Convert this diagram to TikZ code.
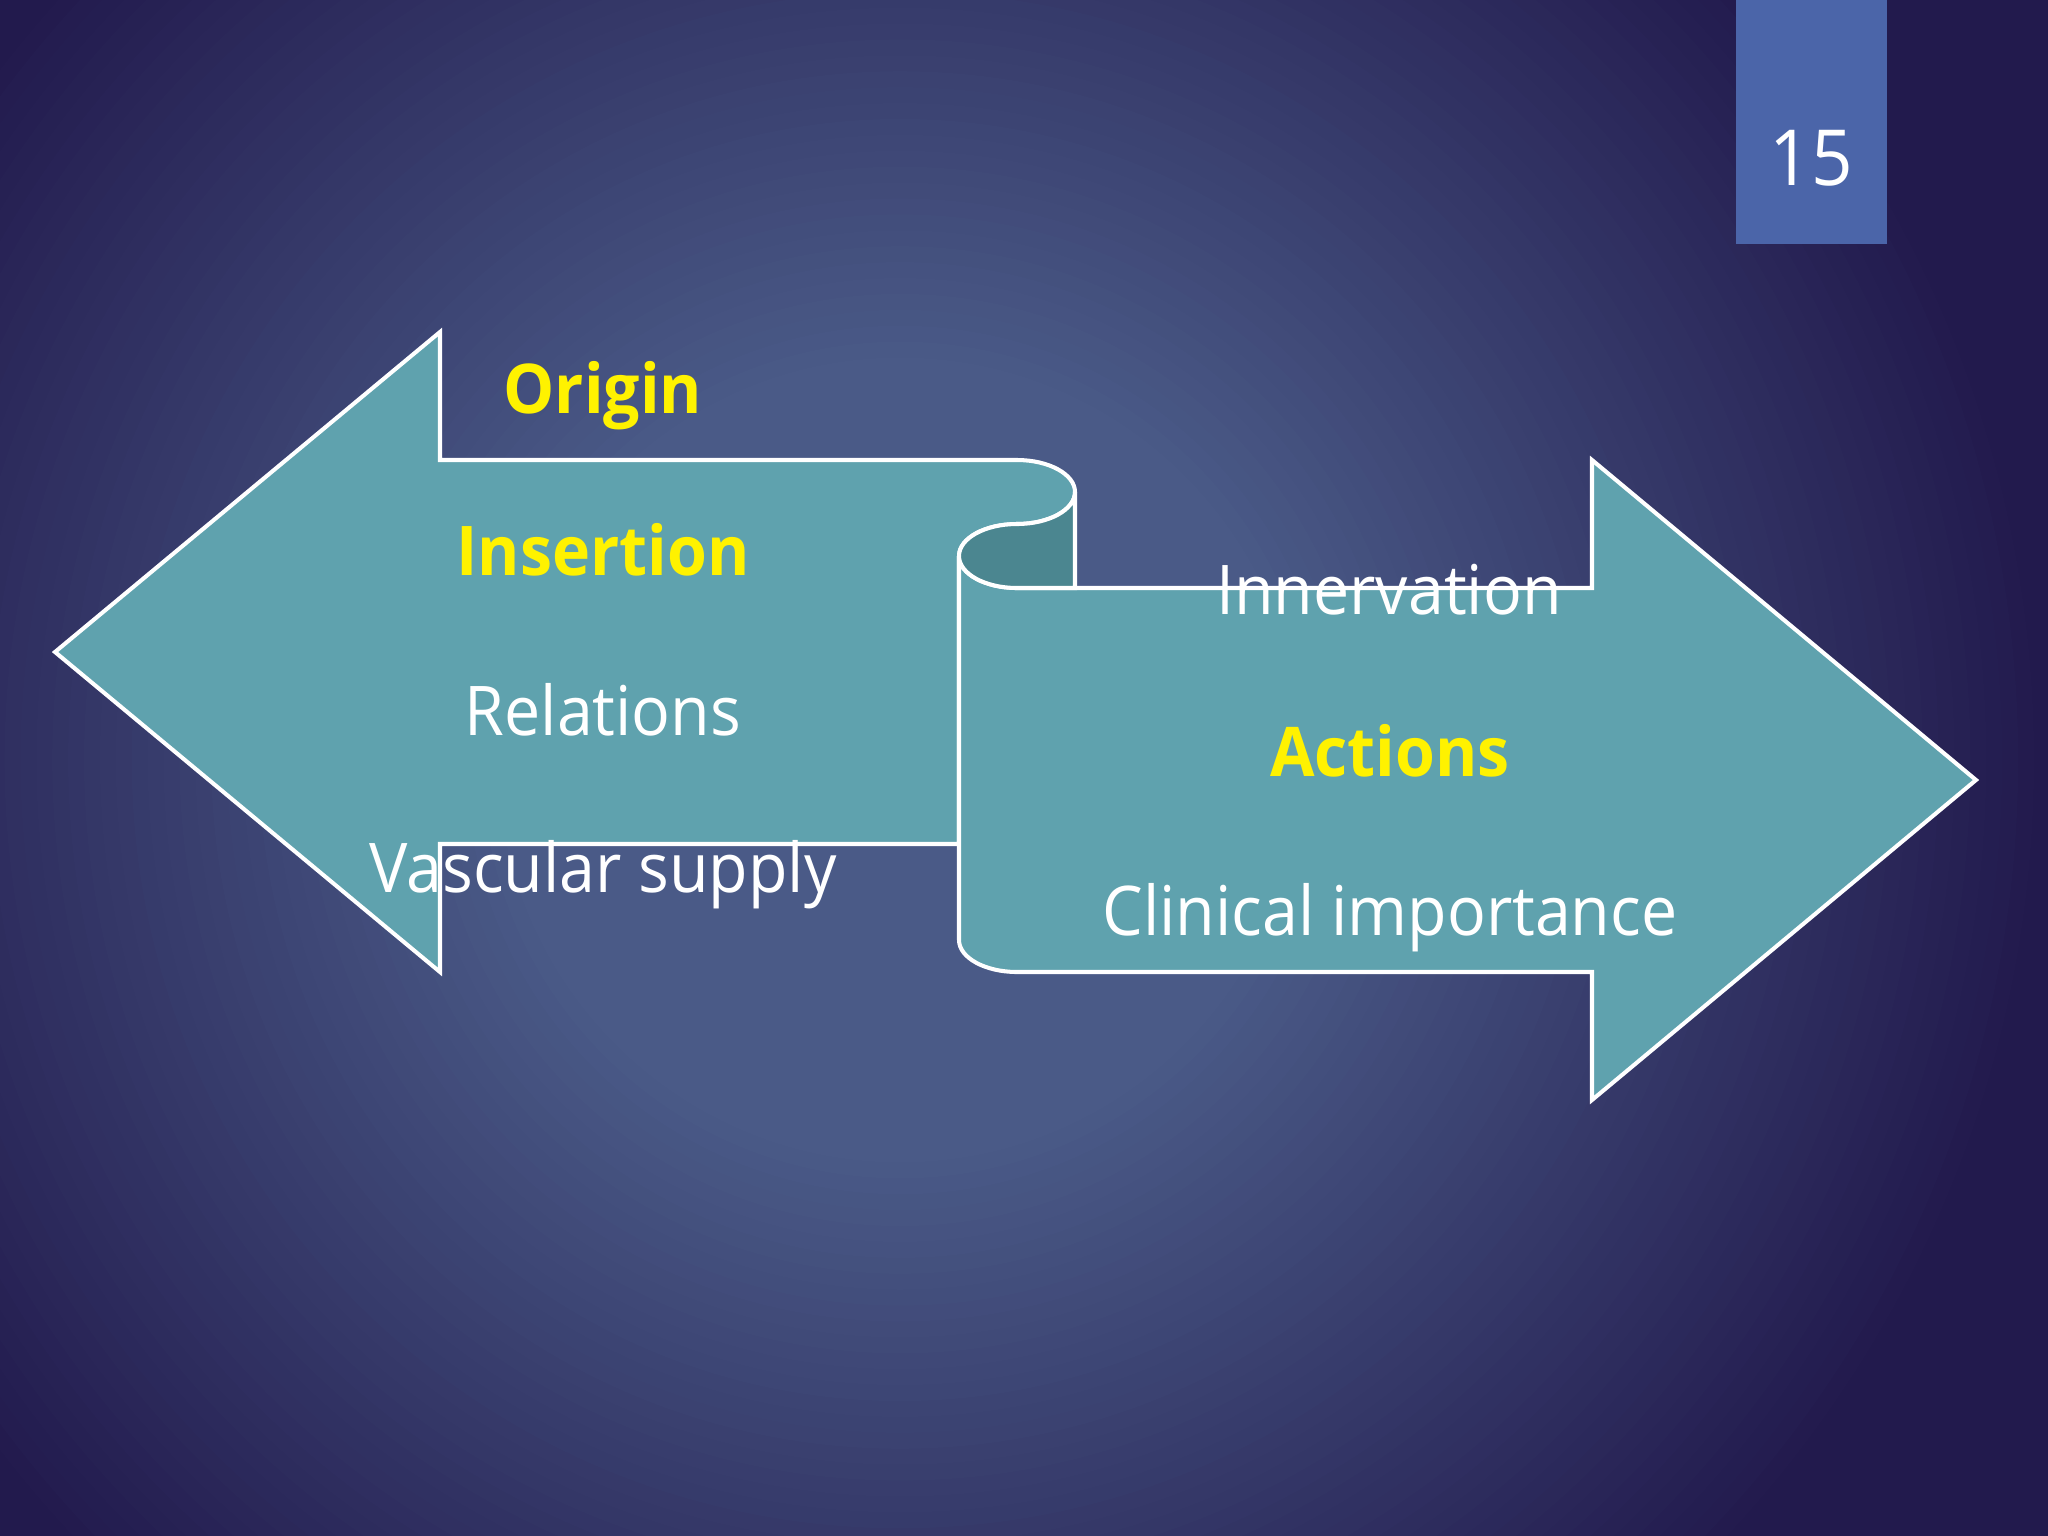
\documentclass[tikz,border=0pt]{standalone}
\usepackage{fontspec}
\setmainfont{Open Sans}[FakeStretch=0.94]
\definecolor{bgin}{HTML}{4A5A87}
\definecolor{bgout}{HTML}{221A4D}
\definecolor{teal}{HTML}{5FA2AE}
\definecolor{tealdark}{HTML}{4B8690}
\definecolor{pagebox}{HTML}{4B65A9}

\begin{document}
\begin{tikzpicture}[x=0.01cm, y=-0.01cm,
  ribbon/.style={fill=teal, draw=white, line width=1.15pt, line join=miter},
  curl/.style={fill=tealdark, draw=white, line width=1.15pt},
  plain/.style={text=white, anchor=base, font=\fontsize{19.5}{23}\selectfont},
  hilite/.style={text=yellow, anchor=base, font=\fontsize{19.5}{23}\selectfont\bfseries}]
\useasboundingbox (0,0) rectangle (2048,1536);
% background glow
\begin{scope}
\clip (0,0) rectangle (2048,1536);
\fill[bgout] (0,0) rectangle (2048,1536);
\foreach \k in {0,...,47} {
  \pgfmathsetmacro\rho{1150*(1-0.65*\k/47)}
  \pgfmathsetmacro\pct{100*\k/47}
  \fill[bgin!\pct!bgout] (900,760) circle (\rho);
}
\end{scope}
% page number
\fill[pagebox] (1736,0) rectangle (1887,244);
\node[text=white, anchor=base, font=\fontsize{22}{26}\selectfont] (pagenum) at (1811,185) {15};
% left arrow
\draw[ribbon] (55,652) -- (440,332) -- (440,460) -- (1017,460)
  arc[start angle=-90, end angle=90, x radius=58, y radius=32]
  arc[start angle=-90, end angle=-180, x radius=58, y radius=32]
  -- (959,844) -- (440,844) -- (440,972) -- cycle;
% right arrow
\draw[ribbon] (959,556)
  arc[start angle=180, end angle=90, x radius=58, y radius=32]
  -- (1592,588) -- (1592,460) -- (1976,780) -- (1592,1100) -- (1592,972) -- (1017,972)
  arc[start angle=90, end angle=180, x radius=58, y radius=32] -- cycle;
% inside of the curl
\draw[curl] (1075,492) -- (1075,588) -- (1017,588)
  arc[start angle=90, end angle=270, x radius=58, y radius=32]
  arc[start angle=90, end angle=0, x radius=58, y radius=32] -- cycle;
% labels
\node[hilite] (origin) at (603,413) {Origin};
\node[hilite] (insertion) at (603,575) {Insertion};
\node[plain] (relations) at (603,735) {Relations};
\node[plain] (vascular) at (603,892) {Vascular supply};
\node[plain] (innervation) at (1389,614) {Innervation};
\node[hilite] (actions) at (1390,776) {Actions};
\node[plain] (clinical) at (1390,935) {Clinical importance};
\end{tikzpicture}
\end{document}
